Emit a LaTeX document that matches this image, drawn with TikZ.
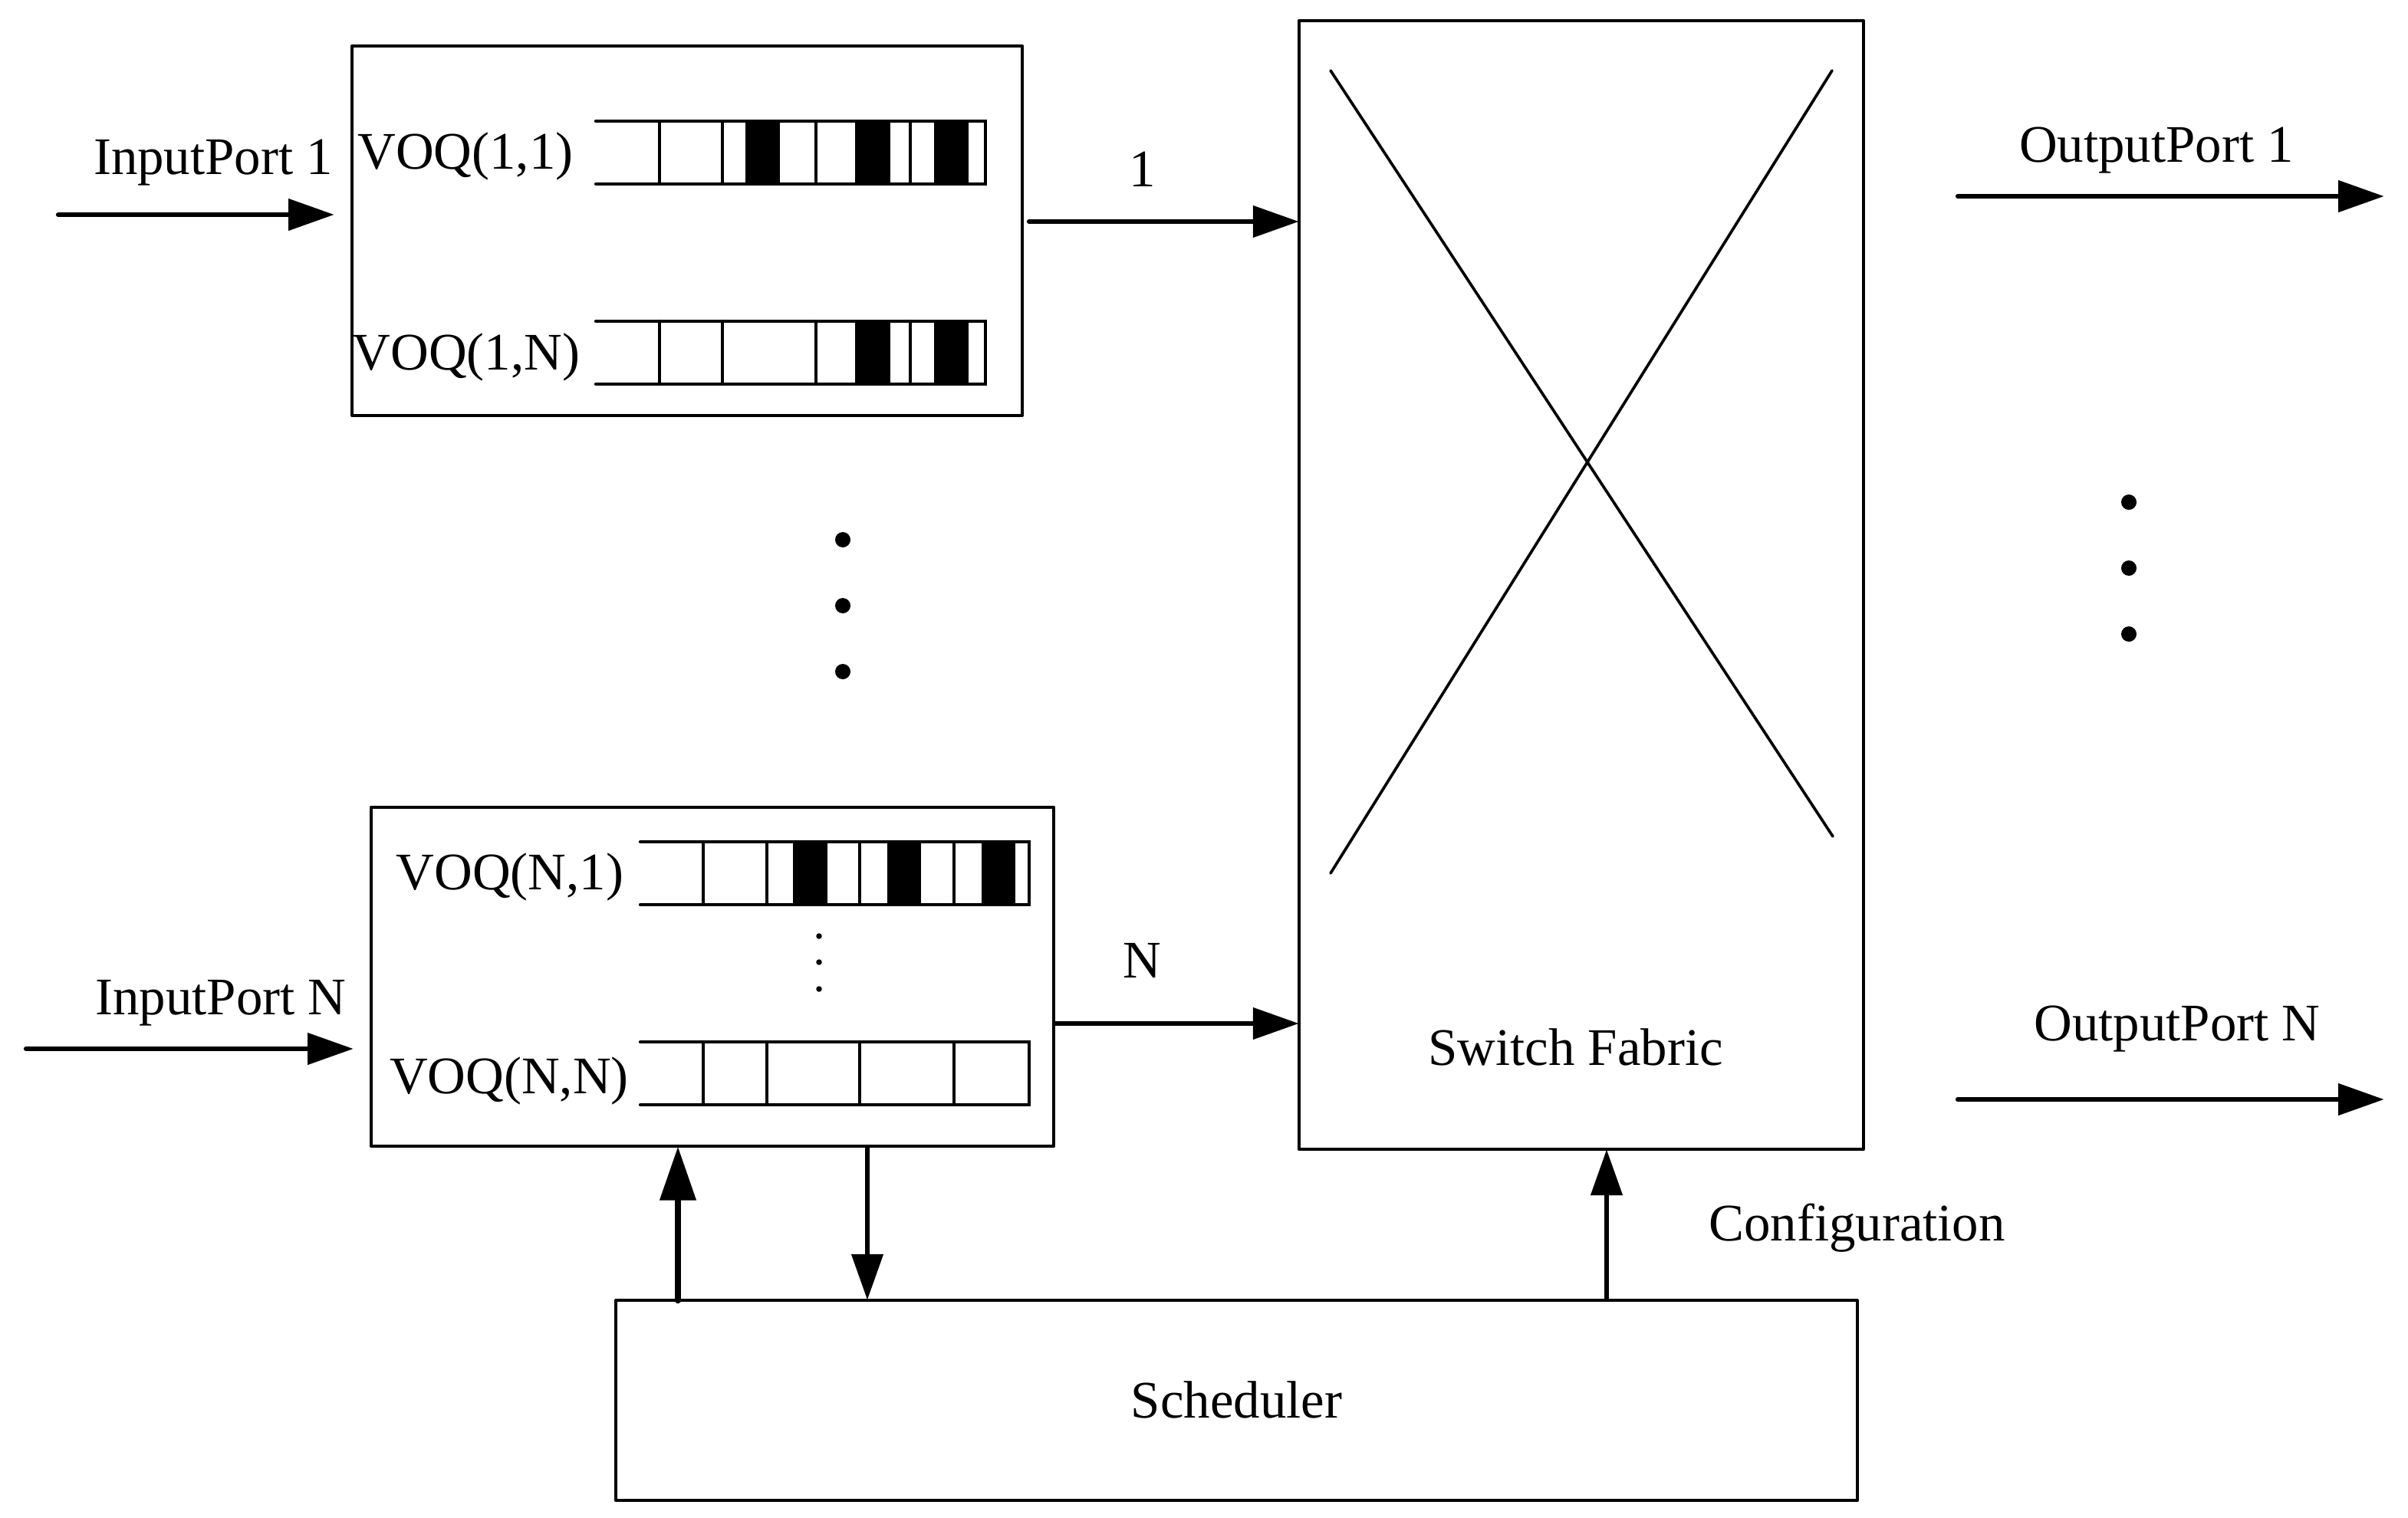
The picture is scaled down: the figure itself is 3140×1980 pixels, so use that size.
\documentclass[tikz,border=0pt]{standalone}
\usepackage{fontspec}
\setmainfont{Liberation Serif}
\usepackage{tikz}
\usetikzlibrary{arrows.meta,positioning,calc}
\tikzset{
block/.style = {draw, fill=white, rectangle, line width=2.5pt, line join=round, inner sep=0pt, outer sep=auto},
lbl/.style = {anchor=base, inner sep=0pt},
tmp/.style = {coordinate},
dot/.style = {draw=none, fill=black, circle, inner sep=0pt, minimum size=0.4cm},
smalldot/.style = {draw=none, fill=black, circle, inner sep=0pt, minimum size=0.15cm},
cell/.style = {line width=2.5pt, line cap=round},
cross/.style = {line width=2.1pt, line cap=round},
flow/.style = {line width=3.6pt, line cap=round, shorten >=-1pt, -{Triangle[length=34pt,width=23pt]}},
flowup/.style = {line width=4.9pt, line cap=round, shorten >=-1pt, -{Triangle[length=40pt,width=26pt]}}
}

\begin{document}
\begin{tikzpicture}[x=0.02cm,y=-0.02cm,font=\fontsize{39.2pt}{42pt}\selectfont]
    \useasboundingbox (0,0) rectangle (3140,1980);
    % main blocks
    \node [block, minimum width=17.48cm, minimum height=9.64cm] (vq1) at (896,301) {};
    \node [block, minimum width=17.8cm, minimum height=8.84cm] (vqN) at (929,1274) {};
    \node [block, minimum width=14.72cm, minimum height=29.44cm] (switch) at (2062,763) {};
    \node [block, minimum width=32.38cm, minimum height=5.22cm] (sched) at (1612.5,1826.5) {\raisebox{1pt}{Scheduler}};

    % queues of the first port
    \foreach \ya/\yb in {158/240, 419/501} {
        \draw [cell] (777,\ya) -- (1285,\ya) -- (1285,\yb) -- (777,\yb);
        \foreach \x in {860,942,1187} \draw [cell] (\x,\ya) -- (\x,\yb);
        \foreach \xa/\xb in {1115/1161, 1218/1263} \fill (\xa,\ya) rectangle (\xb,\yb);
    }
    \draw [cell] (1064,158) -- (1064,240);
    \draw [cell] (1064,419) -- (1064,501);
    \fill (972,158) rectangle (1017,240);

    % queues of the last port
    \foreach \ya/\yb in {1098/1180, 1359/1441} {
        \draw [cell] (835,\ya) -- (1342,\ya) -- (1342,\yb) -- (835,\yb);
        \foreach \x in {917,1000,1121,1244} \draw [cell] (\x,\ya) -- (\x,\yb);
    }
    \foreach \xa/\xb in {1034/1079, 1157/1201, 1280/1324} \fill (\xa,1098) rectangle (\xb,1180);

    \node [lbl] (voq11) at (607,221) {VOQ(1,1)};
    \node [lbl] (voq1N) at (608,482) {VOQ(1,N)};
    \node [lbl] (voqN1) at (665,1160) {VOQ(N,1)};
    \node [lbl] (voqNN) at (664,1426) {VOQ(N,N)};

    % crossbar
    \coordinate (xa) at (1735,92);
    \coordinate (xb) at (2390,1091);
    \coordinate (xc) at (2389,92);
    \coordinate (xd) at (1735,1139);
    \draw [cross] (xa) -- (xb);
    \draw [cross] (xc) -- (xd);
    \node [lbl] (fabric) at (2054.5,1389) {Switch Fabric};

    % ports
    \coordinate (in1a) at (76,280);
    \coordinate (in1b) at (434,280);
    \draw [flow] (in1a) -- (in1b);
    \node [lbl] (in1) at (278,228) {InputPort 1};
    \coordinate (inNa) at (34,1368);
    \coordinate (inNb) at (459,1368);
    \draw [flow] (inNa) -- (inNb);
    \node [lbl] (inN) at (288,1323) {InputPort N};
    \coordinate (out1a) at (2553,256);
    \coordinate (out1b) at (3107,256);
    \draw [flow] (out1a) -- (out1b);
    \node [lbl] (out1) at (2812,212) {OutputPort 1};
    \coordinate (outNa) at (2553,1434);
    \coordinate (outNb) at (3107,1434);
    \draw [flow] (outNa) -- (outNb);
    \node [lbl] (outN) at (2839,1357) {OutputPort N};

    % towards the fabric
    \coordinate (lnk1) at (1342,289);
    \draw [flow] (lnk1) -- (lnk1 -| switch.west);
    \node [lbl] (lnk1txt) at (1490,244) {1};
    \coordinate (lnkN) at (1374,1335);
    \draw [flow] (lnkN -| vqN.east) -- (lnkN -| switch.west);
    \node [lbl] (lnkNtxt) at (1489,1275) {N};

    % scheduler
    \coordinate (req) at (884,1696);
    \draw [flowup] (req) -- (req |- vqN.south);
    \coordinate (grant) at (1131,1600);
    \draw [flow, line cap=butt] (grant |- vqN.south) -- (grant |- sched.north);
    \coordinate (conf) at (2095,1695);
    \draw [flow] (conf) -- (conf |- switch.south);
    \node [lbl] (conftxt) at (2421.5,1618) {Configuration};

    % dots
    \foreach \y [count=\i] in {704,790,876} \node [dot] (dl\i) at (1099,\y) {};
    \foreach \y [count=\i] in {655,741,827} \node [dot] (dr\i) at (2776,\y) {};
    \foreach \y [count=\i] in {1221,1255,1290} \node [smalldot] (dq\i) at (1068,\y) {};
\end{tikzpicture}
\end{document}
